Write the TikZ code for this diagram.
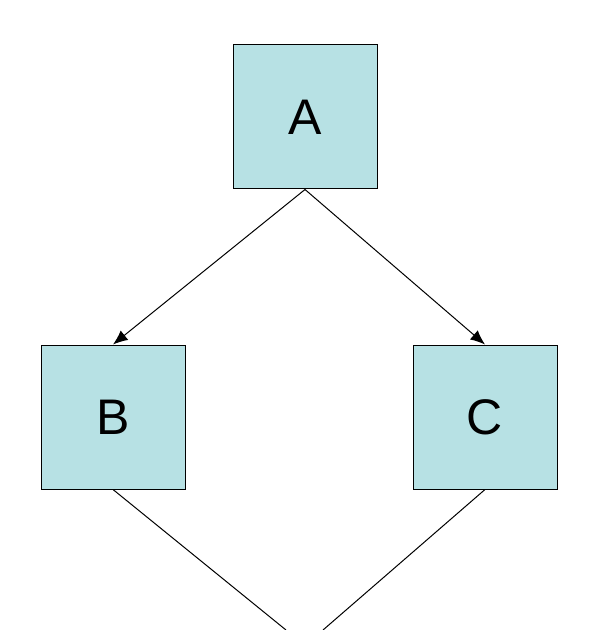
\documentclass[tikz,border=0pt]{standalone}
\usepackage{fontspec}
\setmainfont{Liberation Sans}
\usetikzlibrary{arrows.meta}
\definecolor{boxcyan}{RGB}{183,225,228}
\tikzstyle{block} = [rectangle, draw, fill=boxcyan, line width=0.75pt, minimum size=108pt, inner sep=0pt, font=\fontsize{37.5}{40}\selectfont]
\tikzstyle{line} = [draw, line width=0.75pt, -{Latex[length=11pt,width=9pt]}]
\tikzstyle{plain} = [draw, line width=0.75pt]

\begin{document}
\begin{tikzpicture}[x=0.75pt, y=-0.75pt]
	\useasboundingbox (0,0) rectangle (597,630);
	\node [block] (a) at (305,117) {A};
	\node [block] (b) at (113,417) {B};
	\node [block] (c) at (485,417) {C};
	\coordinate (bend) at (286,630);
	\coordinate (cend) at (323,630);
	
	\path[line] (a.south) -- (b.north);
	\path[line] (a.south) -- (c.north);
	\path[plain] (b.south) -- (bend);
	\path[plain] (c.south) -- (cend);
\end{tikzpicture}
\end{document}
